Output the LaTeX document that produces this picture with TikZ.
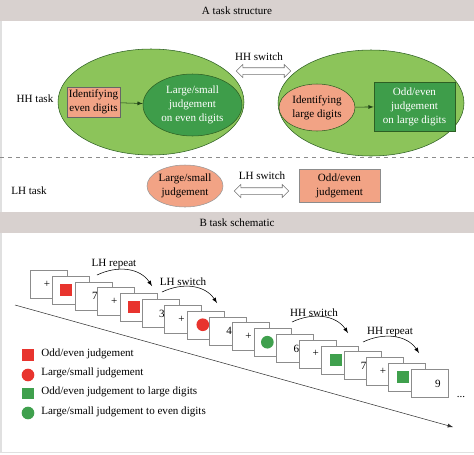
\documentclass[tikz,border=0pt]{standalone}
\usepackage{fontspec}
\setmainfont{Liberation Serif}
\usetikzlibrary{shapes.geometric,shapes.arrows}
\definecolor{bandgray}{RGB}{216,209,207}
\definecolor{lightgreen}{RGB}{140,196,90}
\definecolor{darkgreen}{RGB}{62,157,74}
\definecolor{edgegreen}{RGB}{45,95,35}
\definecolor{salmon}{RGB}{242,163,133}
\definecolor{cuered}{RGB}{232,52,46}
\definecolor{cuegreen}{RGB}{63,160,77}
\tikzset{
  txt/.style={font=\fontsize{8.3}{10.5}\selectfont, align=center, inner sep=0pt},
  band/.style={txt, fill=bandgray, minimum width=355.5pt, minimum height=15.75pt},
  outer/.style={ellipse, draw=edgegreen, fill=lightgreen, minimum width=139.5pt, minimum height=79.5pt, inner sep=0pt},
  salmonbox/.style={txt, draw=black!60, fill=salmon},
  greenbox/.style={txt, draw=edgegreen, fill=darkgreen, text=white},
  dblarrow/.style={double arrow, draw=black!55, fill=white, minimum height=41pt, double arrow head extend=2.5pt, inner sep=2.25pt},
  slide/.style={rectangle, draw=black!45, fill=white, minimum width=27.75pt, minimum height=21pt, anchor=north west, inner sep=0pt},
  cross/.style={txt, xshift=12.75pt, yshift=-10.5pt},
  digit/.style={txt, xshift=15pt, yshift=-11pt},
  lastdigit/.style={txt, xshift=20.25pt, yshift=-11pt},
  rsq/.style={rectangle, fill=cuered, minimum size=9pt, inner sep=0pt},
  rcirc/.style={circle, fill=cuered, minimum size=9.5pt, inner sep=0pt},
  gsq/.style={rectangle, fill=cuegreen, minimum size=9pt, inner sep=0pt},
  gcirc/.style={circle, fill=cuegreen, minimum size=9.5pt, inner sep=0pt},
  redsq/.style={rsq, xshift=10.5pt, yshift=-10.5pt},
  redcirc/.style={rcirc, xshift=12pt, yshift=-10.5pt},
  greensq/.style={gsq, xshift=11pt, yshift=-10.5pt},
  greencirc/.style={gcirc, xshift=10pt, yshift=-10.5pt}
}
\begin{document}
\begin{tikzpicture}[x=0.75pt, y=-0.75pt]
    \useasboundingbox (0,0) rectangle (474,454);
    \draw[black!12, line width=1.2pt] (1,21) -- (1,452.5) -- (474,452.5);
    % A task structure
    \node[band] (bandA) at (237,10.5) {A task structure};
    \node[txt] (hhtask) at (35,99) {HH task};
    \node[outer] (outerL) at (151,102) {};
    \node[outer] (outerR) at (371,103) {};
    \node[salmonbox, minimum width=39.75pt, minimum height=22.5pt] (idEven) at (93.5,102) {Identifying\\even digits};
    \node[greenbox, ellipse, minimum width=74.25pt, minimum height=46.5pt] (lsEven) at (192.5,105) {Large/small\\judgement\\on even digits};
    \node[salmonbox, ellipse, draw=edgegreen, minimum width=57pt, minimum height=35.25pt] (idLarge) at (317,107.5) {Identifying\\large digits};
    \node[greenbox, minimum width=60.75pt, minimum height=36.75pt] (oeLarge) at (414.5,106.5) {Odd/even\\judgement\\on large digits};
    \draw[-latex, edgegreen!70!black] (idEven) -- (lsEven);
    \draw[-latex, edgegreen!70!black] (idLarge) -- (oeLarge);
    \node[txt] (hhswlab) at (259,57) {HH switch};
    \node[dblarrow] (hhsw) at (263.5,71) {};
    \draw[dashed, black!45] (0,157) -- (474,157);
    \node[txt] (lhtask) at (29,191) {LH task};
    \node[salmonbox, ellipse, draw=black!40, minimum width=57pt, minimum height=31.5pt] (lsJudge) at (185,186) {Large/small\\judgement};
    \node[salmonbox, draw=black!45, minimum width=60.75pt, minimum height=24.75pt] (oeJudge) at (339.5,185.5) {Odd/even\\judgement};
    \node[txt] (lhswlab) at (262,176) {LH switch};
    \node[dblarrow] (lhsw) at (261.5,191) {};
    % B task schematic
    \node[band] (bandB) at (237,222.5) {B task schematic};
    \coordinate (tstart) at (15,305);
    \coordinate (tend) at (453,427);
    \draw[-latex, black!80] (tstart) -- (tend);
    \foreach \i/\sty/\t in {0/cross/+, 1/redsq/{}, 2/digit/7, 3/cross/+, 4/redsq/{}, 5/digit/3,
        6/cross/+, 7/redcirc/{}, 8/digit/4, 9/cross/+, 10/greencirc/{}, 11/digit/6,
        12/cross/+, 13/greensq/{}, 14/digit/7, 15/cross/+, 16/greensq/{}, 17/lastdigit/9}{
        \node[slide] (f\i) at ({30+22.4*\i},{270+5.82*\i}) {};
        \node[\sty] (c\i) at (f\i.north west) {\t};
    }
    \coordinate (lhr1) at (97,275);
    \coordinate (lhr2) at (152,286);
    \draw[-latex] (lhr1) .. controls (118,265) and (140,268) .. (lhr2);
    \node[txt] (lhrlab) at (114,264) {LH repeat};
    \coordinate (lhs1) at (162,292);
    \coordinate (lhs2) at (217,303);
    \draw[-latex] (lhs1) .. controls (183,282) and (205,285) .. (lhs2);
    \node[txt] (lhslab) at (183,282) {LH switch};
    \coordinate (hhs1) at (292,322);
    \coordinate (hhs2) at (348,333);
    \draw[-latex] (hhs1) .. controls (313,312) and (336,315) .. (hhs2);
    \node[txt] (hhslab) at (314,313) {HH switch};
    \coordinate (hhr1) at (363,342);
    \coordinate (hhr2) at (419,353);
    \draw[-latex] (hhr1) .. controls (384,332) and (407,335) .. (hhr2);
    \node[txt] (hhrlab) at (390,332) {HH repeat};
    \node[txt] (dots) at (461,397) {...};
    % legend
    \node[rsq, minimum size=8.5pt] (k1) at (28,355) {};
    \node[rcirc] (k2) at (28,375) {};
    \node[gsq, minimum size=8.5pt] (k3) at (28,393.5) {};
    \node[gcirc] (k4) at (28,413) {};
    \node[txt, anchor=west] (l1) at (41,354) {Odd/even judgement};
    \node[txt, anchor=west] (l2) at (41,373) {Large/small judgement};
    \node[txt, anchor=west] (l3) at (41,392) {Odd/even judgement to large digits};
    \node[txt, anchor=west] (l4) at (41,412) {Large/small judgement to even digits};
\end{tikzpicture}
\end{document}
